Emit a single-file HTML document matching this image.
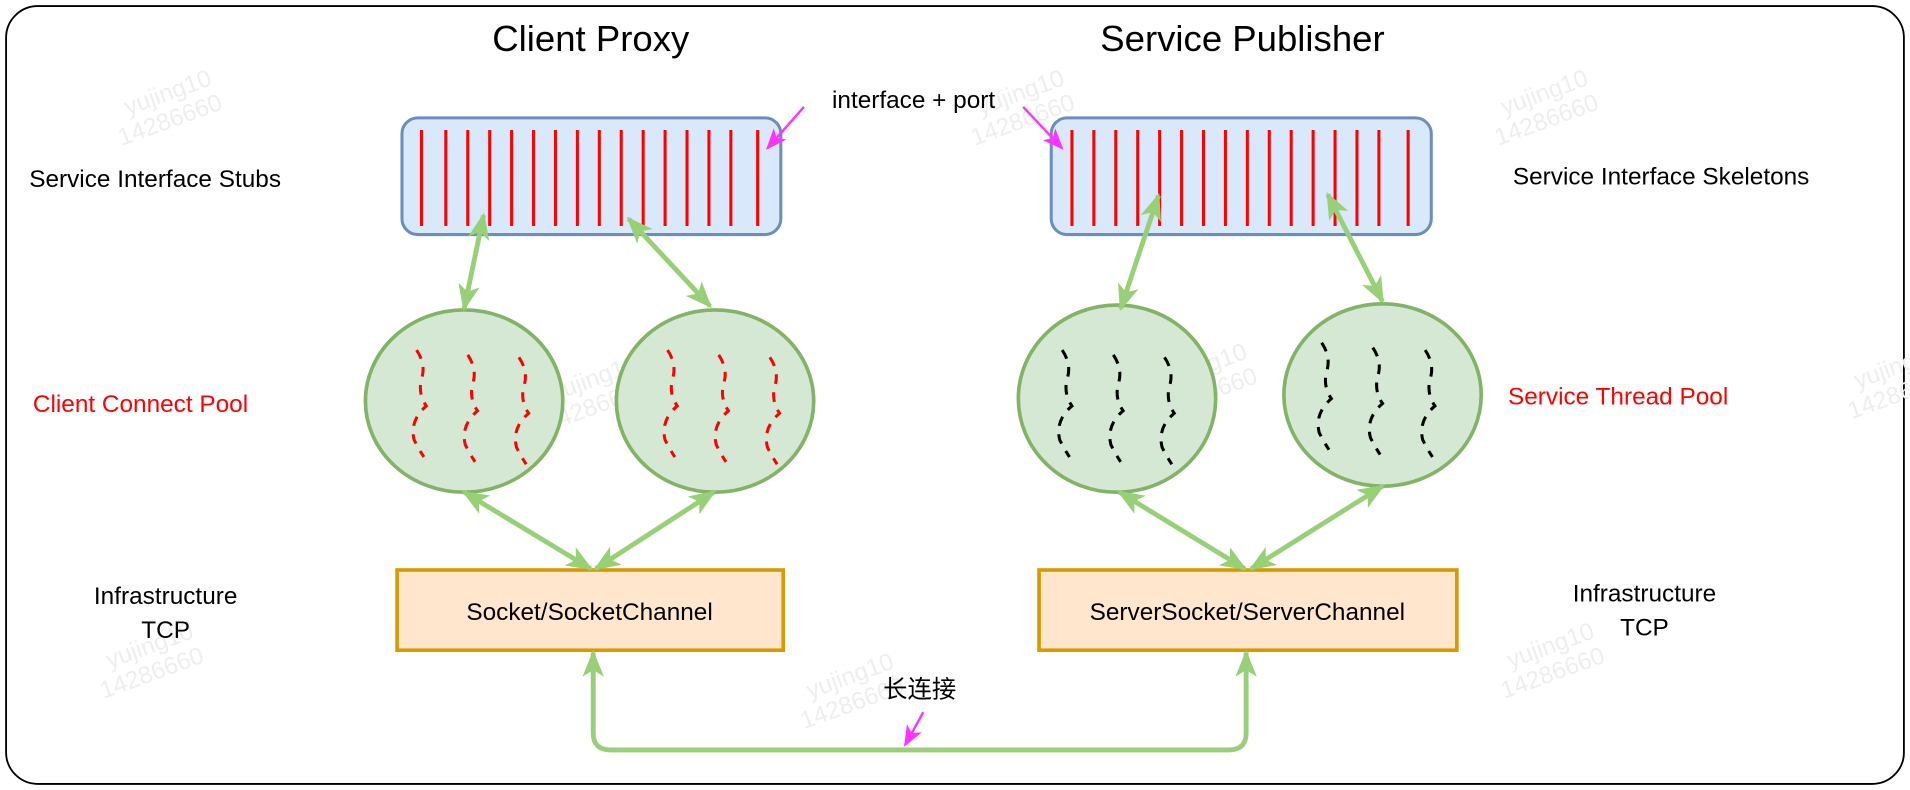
<!DOCTYPE html>
<html><head><meta charset="utf-8"><style>
html,body{margin:0;padding:0;background:#fff}
svg{display:block}
text{font-family:"Liberation Sans","Noto Sans CJK SC",sans-serif}
</style></head><body>
<svg width="1910" height="790" viewBox="0 0 1568 650" preserveAspectRatio="none" xmlns="http://www.w3.org/2000/svg">
<defs>
<marker id="g" viewBox="0 0 20 16" refX="18" refY="8" markerWidth="5.5" markerHeight="4.4" orient="auto-start-reverse" markerUnits="strokeWidth"><path d="M0,0 L20,8 L0,16 L5,8 Z" fill="#97d077"/></marker>
<marker id="m" viewBox="0 0 20 16" refX="18" refY="8" markerWidth="9" markerHeight="7" orient="auto" markerUnits="strokeWidth"><path d="M0,0 L20,8 L0,16 L5,8 Z" fill="#ff33ff"/></marker>
<path id="sq" d="M0,0 q8,12 4,24 q-3,12 4,22 q-14,12 -10,28 q4,8 8,14"/>
</defs>
<rect x="5" y="5" width="1558" height="640" rx="26" fill="#fff" stroke="#000" stroke-width="1.5"/>
<g fill="#eeeeee" font-size="20">
<text transform="translate(105,95) rotate(-20)">yujing10</text><text transform="translate(100,120) rotate(-20)">14286660</text>
<text transform="translate(805,95) rotate(-20)">yujing10</text><text transform="translate(800,120) rotate(-20)">14286660</text>
<text transform="translate(1235,95) rotate(-20)">yujing10</text><text transform="translate(1230,120) rotate(-20)">14286660</text>
<text transform="translate(455,330) rotate(-20)">yujing10</text><text transform="translate(450,355) rotate(-20)">14286660</text>
<text transform="translate(955,320) rotate(-20)">yujing10</text><text transform="translate(950,345) rotate(-20)">14286660</text>
<text transform="translate(1525,320) rotate(-20)">yujing10</text><text transform="translate(1520,345) rotate(-20)">14286660</text>
<text transform="translate(90,550) rotate(-20)">yujing10</text><text transform="translate(85,575) rotate(-20)">14286660</text>
<text transform="translate(665,575) rotate(-20)">yujing10</text><text transform="translate(660,600) rotate(-20)">14286660</text>
<text transform="translate(1240,550) rotate(-20)">yujing10</text><text transform="translate(1235,575) rotate(-20)">14286660</text>
</g>
<text x="485" y="42" font-size="30" text-anchor="middle">Client Proxy</text>
<text x="1020" y="42" font-size="30" text-anchor="middle">Service Publisher</text>
<text x="750" y="89" font-size="20" text-anchor="middle">interface + port</text>
<text x="24" y="154" font-size="20">Service Interface Stubs</text>
<text x="1242" y="152" font-size="20">Service Interface Skeletons</text>
<text x="27" y="339" font-size="20" fill="#ff0000">Client Connect Pool</text>
<text x="1238" y="333" font-size="20" fill="#ff0000">Service Thread Pool</text>
<text x="136" y="497" font-size="20" text-anchor="middle">Infrastructure</text>
<text x="136" y="525" font-size="20" text-anchor="middle">TCP</text>
<text x="1350" y="495" font-size="20" text-anchor="middle">Infrastructure</text>
<text x="1350" y="523" font-size="20" text-anchor="middle">TCP</text>
<text x="755" y="574" font-size="20" text-anchor="middle">长连接</text>

<rect x="330" y="97" width="311" height="96" rx="13" fill="#dae8fc" stroke="#6c8ebf" stroke-width="2.5"/>
<rect x="863" y="97" width="312" height="96" rx="13" fill="#dae8fc" stroke="#6c8ebf" stroke-width="2.5"/>
<g stroke="#ff0000" stroke-width="2.5">
<path d="M346,107V186M366,107V186M384,107V186M402,107V186M420,107V186M438,107V186M456,107V186M474,107V186M492,107V186M510,107V186M528,107V186M546,107V186M564,107V186M582,107V186M600,107V186M622,107V186"/>
<path d="M880,107V186M898,107V186M916,107V186M934,107V186M952,107V186M970,107V186M988,107V186M1006,107V186M1024,107V186M1042,107V186M1060,107V186M1078,107V186M1096,107V186M1114,107V186M1132,107V186M1156,107V186"/>
</g>

<g fill="#d5e8d4" stroke="#82b366" stroke-width="3">
<ellipse cx="381" cy="330" rx="81" ry="75"/>
<ellipse cx="587" cy="330" rx="81" ry="75"/>
<ellipse cx="917" cy="328" rx="81" ry="77"/>
<ellipse cx="1135" cy="325" rx="81" ry="75"/>
</g>
<g fill="none" stroke-width="2.5" stroke-dasharray="8,7">
<g stroke="#ff0000">
<use href="#sq" x="342" y="288"/><use href="#sq" x="384" y="292"/><use href="#sq" x="426" y="294"/>
<use href="#sq" x="548" y="288"/><use href="#sq" x="590" y="292"/><use href="#sq" x="632" y="294"/>
</g>
<g stroke="#000">
<use href="#sq" x="872" y="288"/><use href="#sq" x="914" y="292"/><use href="#sq" x="956" y="294"/>
<use href="#sq" x="1085" y="282"/><use href="#sq" x="1127" y="286"/><use href="#sq" x="1170" y="288"/>
</g>
</g>

<rect x="326" y="469" width="317" height="66" fill="#ffe6cc" stroke="#d79b00" stroke-width="3"/>
<rect x="853" y="469" width="343" height="66" fill="#ffe6cc" stroke="#d79b00" stroke-width="3"/>
<text x="484" y="510" font-size="20" text-anchor="middle">Socket/SocketChannel</text>
<text x="1024" y="510" font-size="20" text-anchor="middle">ServerSocket/ServerChannel</text>

<g stroke="#97d077" stroke-width="4" fill="none" marker-start="url(#g)" marker-end="url(#g)">
<path d="M397,177L381,254"/>
<path d="M516,180L583,252"/>
<path d="M381,405L485,468"/>
<path d="M586,405L489,468"/>
<path d="M951,161L920,254"/>
<path d="M1090,160L1135,248"/>
<path d="M919,405L1022,468"/>
<path d="M1135,400L1027,468"/>
<path d="M487,537V603Q487,617 501,617H1009Q1023,617 1023,603V537"/>
</g>
<g stroke="#ff33ff" stroke-width="2" fill="none" marker-end="url(#m)">
<path d="M660,88L630,122"/>
<path d="M840,88L872,122"/>
<path d="M758,586L743,613"/>
</g>
</svg>
</body></html>
